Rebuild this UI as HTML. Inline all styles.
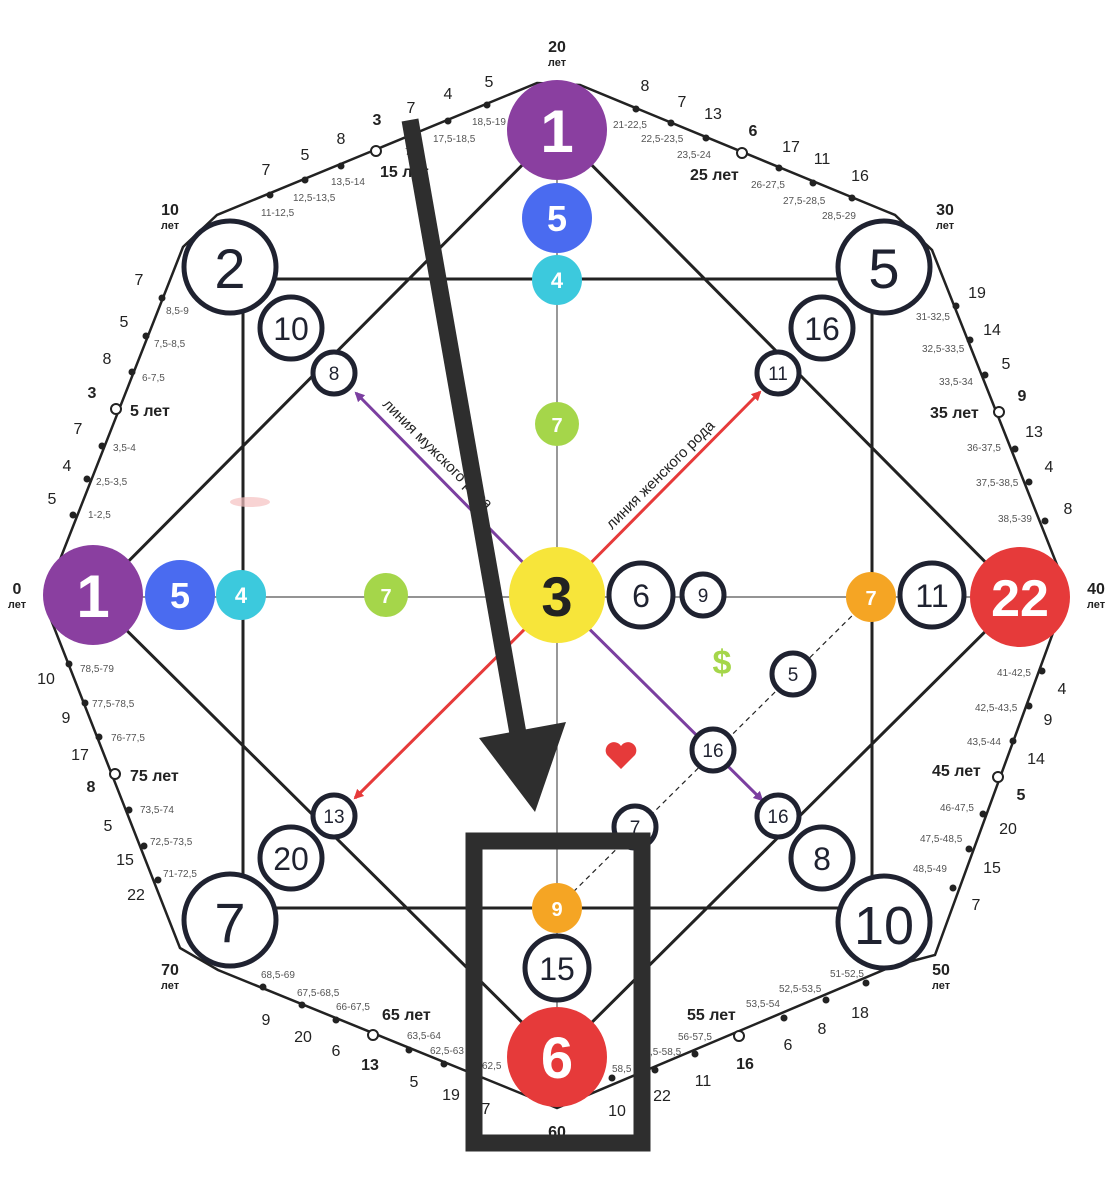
<!DOCTYPE html>
<html><head><meta charset="utf-8"><style>
body{margin:0;background:#fff}
svg{display:block;font-family:"Liberation Sans","DejaVu Sans",sans-serif}
.s{font-size:10px;fill:#555}
.n{font-size:16px;fill:#222}
.b{font-size:16px;font-weight:bold;fill:#222}
.a{font-size:13px;font-weight:bold;fill:#222}
.l{font-size:11px;font-weight:bold;fill:#222}
</style></head><body>
<svg width="1115" height="1200" viewBox="0 0 1115 1200" xmlns="http://www.w3.org/2000/svg">
<defs>
<marker id="mp" markerWidth="10" markerHeight="10" refX="8" refY="5" orient="auto" markerUnits="userSpaceOnUse"><path d="M0,0 L10,5 L0,10 z" fill="#7b3fa0"/></marker>
<marker id="mr" markerWidth="10" markerHeight="10" refX="8" refY="5" orient="auto" markerUnits="userSpaceOnUse"><path d="M0,0 L10,5 L0,10 z" fill="#e63a3a"/></marker>
</defs>
<!-- outer octagon -->
<polyline fill="none" stroke="#222" stroke-width="2.5" points="48,590 183,247 217,215 537,83 580,85 895,215 932,250 1067,590 1065,600 935,955 893,966 557,1108 218,970 180,948 48,612"/>
<!-- square -->
<rect x="243" y="279" width="629" height="629" fill="none" stroke="#222" stroke-width="3"/>
<!-- diamond -->
<polygon points="557,130 1020,597 557,1057 93,597" fill="none" stroke="#222" stroke-width="3"/>
<!-- cross -->
<line x1="557" y1="130" x2="557" y2="1057" stroke="#555" stroke-width="1.2"/>
<line x1="93" y1="597" x2="1020" y2="597" stroke="#555" stroke-width="1.2"/>
<!-- colored diagonals -->
<line x1="557" y1="597" x2="356" y2="393" stroke="#7b3fa0" stroke-width="3" marker-end="url(#mp)"/>
<line x1="557" y1="597" x2="762" y2="800" stroke="#7b3fa0" stroke-width="3" marker-end="url(#mp)"/>
<line x1="557" y1="597" x2="760" y2="392" stroke="#e63a3a" stroke-width="3" marker-end="url(#mr)"/>
<line x1="557" y1="597" x2="355" y2="798" stroke="#e63a3a" stroke-width="3" marker-end="url(#mr)"/>
<line x1="871" y1="597" x2="557" y2="908" stroke="#222" stroke-width="1.2" stroke-dasharray="5,4"/>
<text x="382" y="405" font-size="15" fill="#222" transform="rotate(45 382 405)">линия мужского рода</text>
<text x="612" y="530" font-size="15" fill="#222" transform="rotate(-45 612 530)">линия женского рода</text>
<!-- filled circles -->
<g font-weight="bold" text-anchor="middle" fill="#fff">
<circle cx="557" cy="130" r="50" fill="#8a3fa0"/><text x="557" y="152" font-size="60" fill="#fff">1</text>
<circle cx="557" cy="218" r="35" fill="#4a6bf0"/><text x="557" y="231" font-size="36" fill="#fff">5</text>
<circle cx="557" cy="280" r="25" fill="#3cc9dd"/><text x="557" y="288" font-size="22" fill="#fff">4</text>
<circle cx="557" cy="424" r="22" fill="#a5d64a"/><text x="557" y="432" font-size="20" fill="#fff">7</text>
<circle cx="93" cy="595" r="50" fill="#8a3fa0"/><text x="93" y="617" font-size="60" fill="#fff">1</text>
<circle cx="180" cy="595" r="35" fill="#4a6bf0"/><text x="180" y="608" font-size="36" fill="#fff">5</text>
<circle cx="241" cy="595" r="25" fill="#3cc9dd"/><text x="241" y="603" font-size="22" fill="#fff">4</text>
<circle cx="386" cy="595" r="22" fill="#a5d64a"/><text x="386" y="603" font-size="20" fill="#fff">7</text>
<circle cx="557" cy="595" r="48" fill="#f7e53a"/><text x="557" y="616" font-size="56" fill="#222">3</text>
<circle cx="871" cy="597" r="25" fill="#f5a524"/><text x="871" y="605" font-size="20" fill="#fff">7</text>
<circle cx="1020" cy="597" r="50" fill="#e63a3a"/><text x="1020" y="616" font-size="52" fill="#fff">22</text>
<circle cx="557" cy="908" r="25" fill="#f5a524"/><text x="557" y="916" font-size="20" fill="#fff">9</text>
<circle cx="557" cy="1057" r="50" fill="#e63a3a"/><text x="557" y="1078" font-size="58" fill="#fff">6</text>
</g>
<!-- outlined circles -->
<g fill="#fff" stroke="#1f2230" stroke-width="5">
<circle cx="230" cy="267" r="46"/><circle cx="884" cy="267" r="46"/>
<circle cx="230" cy="920" r="46"/><circle cx="884" cy="922" r="46"/>
<circle cx="291" cy="328" r="31"/><circle cx="822" cy="328" r="31"/>
<circle cx="291" cy="858" r="31"/><circle cx="822" cy="858" r="31"/>
<circle cx="334" cy="373" r="21"/><circle cx="778" cy="373" r="21"/>
<circle cx="334" cy="816" r="21"/><circle cx="778" cy="816" r="21"/>
<circle cx="641" cy="595" r="32"/><circle cx="703" cy="595" r="21"/>
<circle cx="932" cy="595" r="32"/><circle cx="557" cy="968" r="32"/>
<circle cx="793" cy="674" r="21"/><circle cx="713" cy="750" r="21"/><circle cx="635" cy="827" r="21"/>
</g>
<g fill="#1f2230" text-anchor="middle">
<text x="230" y="288" font-size="56">2</text><text x="884" y="288" font-size="56">5</text>
<text x="230" y="942" font-size="56">7</text><text x="884" y="944" font-size="54">10</text>
<text x="291" y="340" font-size="32">10</text><text x="822" y="340" font-size="32">16</text>
<text x="291" y="870" font-size="32">20</text><text x="822" y="870" font-size="32">8</text>
<text x="334" y="380" font-size="19">8</text><text x="778" y="380" font-size="19">11</text>
<text x="334" y="823" font-size="19">13</text><text x="778" y="823" font-size="19">16</text>
<text x="641" y="607" font-size="32">6</text><text x="703" y="602" font-size="19">9</text>
<text x="932" y="607" font-size="32">11</text><text x="557" y="980" font-size="32">15</text>
<text x="793" y="681" font-size="19">5</text><text x="713" y="757" font-size="19">16</text><text x="635" y="834" font-size="19">7</text>
</g>
<text x="722" y="674" font-size="34" font-weight="bold" fill="#a5d64a" text-anchor="middle">$</text>
<path d="M621,769 L607,755 A7,7 0 0 1 621,746 A7,7 0 0 1 635,755 Z" fill="#e63a3a"/>
<ellipse cx="250" cy="502" rx="20" ry="5" fill="#f5c0c0" opacity="0.7"/>
<!-- dots -->
<g fill="#222">
<circle cx="270" cy="195" r="3.5"/><circle cx="305" cy="180" r="3.5"/><circle cx="341" cy="166" r="3.5"/><circle cx="448" cy="121" r="3.5"/><circle cx="487" cy="105" r="3.5"/>
<circle cx="636" cy="109" r="3.5"/><circle cx="671" cy="123" r="3.5"/><circle cx="706" cy="138" r="3.5"/><circle cx="779" cy="168" r="3.5"/><circle cx="813" cy="183" r="3.5"/><circle cx="852" cy="198" r="3.5"/>
<circle cx="956" cy="306" r="3.5"/><circle cx="970" cy="340" r="3.5"/><circle cx="985" cy="375" r="3.5"/><circle cx="1015" cy="449" r="3.5"/><circle cx="1029" cy="482" r="3.5"/><circle cx="1045" cy="521" r="3.5"/>
<circle cx="1042" cy="671" r="3.5"/><circle cx="1029" cy="706" r="3.5"/><circle cx="1013" cy="741" r="3.5"/><circle cx="983" cy="814" r="3.5"/><circle cx="969" cy="849" r="3.5"/><circle cx="953" cy="888" r="3.5"/>
<circle cx="866" cy="983" r="3.5"/><circle cx="826" cy="1000" r="3.5"/><circle cx="784" cy="1018" r="3.5"/><circle cx="695" cy="1054" r="3.5"/><circle cx="655" cy="1070" r="3.5"/><circle cx="612" cy="1078" r="3.5"/>
<circle cx="263" cy="987" r="3.5"/><circle cx="302" cy="1005" r="3.5"/><circle cx="336" cy="1020" r="3.5"/><circle cx="409" cy="1050" r="3.5"/><circle cx="444" cy="1064" r="3.5"/>
<circle cx="69" cy="664" r="3.5"/><circle cx="85" cy="703" r="3.5"/><circle cx="99" cy="737" r="3.5"/><circle cx="129" cy="810" r="3.5"/><circle cx="144" cy="846" r="3.5"/><circle cx="158" cy="880" r="3.5"/>
<circle cx="73" cy="515" r="3.5"/><circle cx="87" cy="479" r="3.5"/><circle cx="102" cy="446" r="3.5"/><circle cx="132" cy="372" r="3.5"/><circle cx="146" cy="336" r="3.5"/><circle cx="162" cy="298" r="3.5"/>
</g>
<g fill="#fff" stroke="#222" stroke-width="2">
<circle cx="376" cy="151" r="5"/><circle cx="742" cy="153" r="5"/><circle cx="999" cy="412" r="5"/><circle cx="998" cy="777" r="5"/><circle cx="739" cy="1036" r="5"/><circle cx="373" cy="1035" r="5"/><circle cx="115" cy="774" r="5"/><circle cx="116" cy="409" r="5"/>
</g>
<!-- age labels -->
<g text-anchor="middle">
<text class="b" x="557" y="52">20</text><text class="l" x="557" y="66">лет</text>
<text class="b" x="170" y="215">10</text><text class="l" x="170" y="229">лет</text>
<text class="b" x="945" y="215">30</text><text class="l" x="945" y="229">лет</text>
<text class="b" x="17" y="594">0</text><text class="l" x="17" y="608">лет</text>
<text class="b" x="1096" y="594">40</text><text class="l" x="1096" y="608">лет</text>
<text class="b" x="170" y="975">70</text><text class="l" x="170" y="989">лет</text>
<text class="b" x="941" y="975">50</text><text class="l" x="941" y="989">лет</text>
<text class="b" x="557" y="1137">60</text>
</g>
<g class="b">
<text x="380" y="177">15 лет</text><text x="690" y="180">25 лет</text>
<text x="930" y="418">35 лет</text><text x="932" y="776">45 лет</text>
<text x="130" y="781">75 лет</text><text x="130" y="416">5 лет</text>
<text x="382" y="1020">65 лет</text><text x="687" y="1020">55 лет</text>
</g>
<!-- small range labels -->
<g class="s">
<text x="261" y="216">11-12,5</text><text x="293" y="201">12,5-13,5</text><text x="331" y="185">13,5-14</text><text x="405" y="155">7,5</text><text x="433" y="142">17,5-18,5</text><text x="472" y="125">18,5-19</text>
<text x="613" y="128">21-22,5</text><text x="641" y="142">22,5-23,5</text><text x="677" y="158">23,5-24</text><text x="751" y="188">26-27,5</text><text x="783" y="204">27,5-28,5</text><text x="822" y="219">28,5-29</text>
<text x="916" y="320">31-32,5</text><text x="922" y="352">32,5-33,5</text><text x="939" y="385">33,5-34</text><text x="967" y="451">36-37,5</text><text x="976" y="486">37,5-38,5</text><text x="998" y="522">38,5-39</text>
<text x="997" y="676">41-42,5</text><text x="975" y="711">42,5-43,5</text><text x="967" y="745">43,5-44</text><text x="940" y="811">46-47,5</text><text x="920" y="842">47,5-48,5</text><text x="913" y="872">48,5-49</text>
<text x="830" y="977">51-52,5</text><text x="779" y="992">52,5-53,5</text><text x="746" y="1007">53,5-54</text><text x="678" y="1040">56-57,5</text><text x="650" y="1055">,5-58,5</text><text x="612" y="1072">58,5</text>
<text x="261" y="978">68,5-69</text><text x="297" y="996">67,5-68,5</text><text x="336" y="1010">66-67,5</text><text x="407" y="1039">63,5-64</text><text x="430" y="1054">62,5-63</text><text x="482" y="1069">62,5</text>
<text x="80" y="672">78,5-79</text><text x="92" y="707">77,5-78,5</text><text x="111" y="741">76-77,5</text><text x="140" y="813">73,5-74</text><text x="150" y="845">72,5-73,5</text><text x="163" y="877">71-72,5</text>
<text x="88" y="518">1-2,5</text><text x="96" y="485">2,5-3,5</text><text x="113" y="451">3,5-4</text><text x="142" y="381">6-7,5</text><text x="154" y="347">7,5-8,5</text><text x="166" y="314">8,5-9</text>
</g>
<!-- number labels -->
<g class="n" text-anchor="middle">
<text x="266" y="175">7</text><text x="305" y="160">5</text><text x="341" y="144">8</text><text x="411" y="113">7</text><text x="448" y="99">4</text><text x="489" y="87">5</text>
<text x="645" y="91">8</text><text x="682" y="107">7</text><text x="713" y="119">13</text><text x="791" y="152">17</text><text x="822" y="164">11</text><text x="860" y="181">16</text>
<text x="977" y="298">19</text><text x="992" y="335">14</text><text x="1006" y="369">5</text><text x="1034" y="437">13</text><text x="1049" y="472">4</text><text x="1068" y="514">8</text>
<text x="1062" y="694">4</text><text x="1048" y="725">9</text><text x="1036" y="764">14</text><text x="1008" y="834">20</text><text x="992" y="873">15</text><text x="976" y="910">7</text>
<text x="860" y="1018">18</text><text x="822" y="1034">8</text><text x="788" y="1050">6</text><text x="703" y="1086">11</text><text x="662" y="1101">22</text><text x="617" y="1116">10</text>
<text x="266" y="1025">9</text><text x="303" y="1042">20</text><text x="336" y="1056">6</text><text x="414" y="1087">5</text><text x="451" y="1100">19</text><text x="486" y="1114">7</text>
<text x="46" y="684">10</text><text x="66" y="723">9</text><text x="80" y="760">17</text><text x="108" y="831">5</text><text x="125" y="865">15</text><text x="136" y="900">22</text>
<text x="52" y="504">5</text><text x="67" y="471">4</text><text x="78" y="434">7</text><text x="107" y="364">8</text><text x="124" y="327">5</text><text x="139" y="285">7</text>
</g>
<g class="b" text-anchor="middle">
<text x="377" y="125">3</text><text x="753" y="136">6</text><text x="1022" y="401">9</text><text x="1021" y="800">5</text><text x="745" y="1069">16</text><text x="370" y="1070">13</text><text x="91" y="792">8</text><text x="92" y="398">3</text>
</g>
<!-- big black arrow -->
<line x1="410" y1="120" x2="520" y2="745" stroke="#2e2e2e" stroke-width="17"/>
<polygon points="479,738 566,722 535,812" fill="#2e2e2e"/>
<!-- box -->
<rect x="474" y="841" width="168" height="302" fill="none" stroke="#2e2e2e" stroke-width="17"/>
</svg>
</body></html>
